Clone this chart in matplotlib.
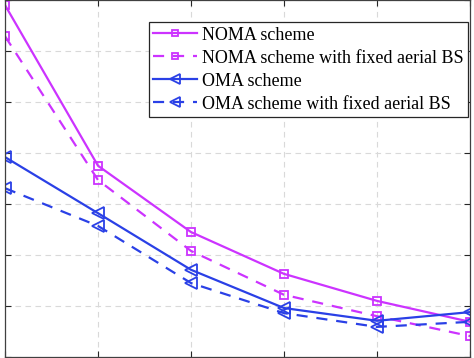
import numpy as np
import matplotlib
matplotlib.use("Agg")
import matplotlib.pyplot as plt

# ---- data ----
x = [1, 2, 3, 4, 5, 6]
noma = [6.90, 3.75, 2.45, 1.63, 1.10, 0.69]
noma_fixed = [6.29, 3.47, 2.08, 1.22, 0.80, 0.41]
oma = [3.92, 2.82, 1.71, 0.96, 0.71, 0.88]
oma_fixed = [3.31, 2.57, 1.45, 0.86, 0.59, 0.69]
labels = ["NOMA scheme", "NOMA scheme with fixed aerial BS",
          "OMA scheme", "OMA scheme with fixed aerial BS"]

magenta = "#cc33ff"
blue = "#2a40e6"

plt.rcParams["font.family"] = ["Liberation Serif", "DejaVu Serif"]

fig = plt.figure(figsize=(4.74, 3.58), dpi=100)
ax = fig.add_axes([5 / 474, 1 / 358, 465 / 474, 357 / 358])

dash = (0, (5, 4))
ax.plot(x, noma, color=magenta, lw=1.6, marker="s", ms=6, mfc="none", mew=1.3, label=labels[0])
ax.plot(x, noma_fixed, color=magenta, lw=1.6, ls=dash, marker="s", ms=6, mfc="none", mew=1.3, label=labels[1])
ax.plot(x, oma, color=blue, lw=1.6, marker="<", ms=8.5, mfc="none", mew=1.3, label=labels[2])
ax.plot(x, oma_fixed, color=blue, lw=1.6, ls=dash, marker="<", ms=8.5, mfc="none", mew=1.3, label=labels[3])

ax.set_xlim(1, 6)
ax.set_ylim(0, 7)
ax.set_xticks(x)
ax.set_yticks(np.arange(0, 8, 1))
ax.set_xticklabels([])
ax.set_yticklabels([])
ax.tick_params(direction="in", length=4, top=True, right=True, color="#262626")
ax.grid(True, color="#d9d9d9", ls=(0, (5, 4)), lw=0.8)
for s in ax.spines.values():
    s.set_color("#404040")
    s.set_linewidth(0.9)

leg = ax.legend(loc="upper right", bbox_to_anchor=(0.996, 0.938), borderaxespad=0,
                fontsize=13, fancybox=False, framealpha=1, edgecolor="#262626",
                handlelength=2.4, handletextpad=0.3, labelspacing=0.33, borderpad=0.25,
                markerscale=0.8)
leg.get_frame().set_linewidth(0.9)

fig.savefig("out.png", dpi=100)
